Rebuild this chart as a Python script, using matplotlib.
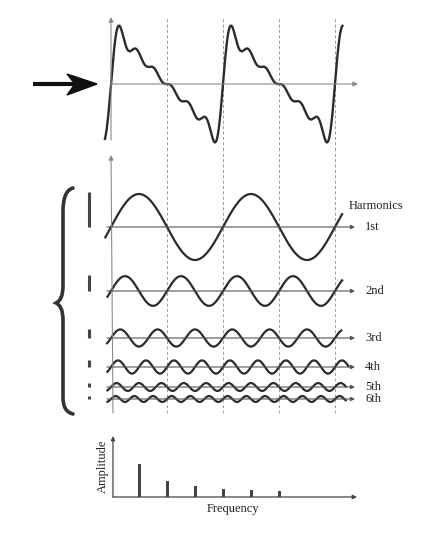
import numpy as np
import matplotlib
matplotlib.use('Agg')
import matplotlib.pyplot as plt
from matplotlib.path import Path
from matplotlib.patches import PathPatch, Polygon

# ---------------- data ----------------
harmonic_labels = ['1st', '2nd', '3rd', '4th', '5th', '6th']
harmonic_numbers = [1, 2, 3, 4, 5, 6]
# amplitudes of the individual harmonics as drawn (relative to the 1st)
harmonic_amplitudes = [1.0, 0.45, 0.26, 0.20, 0.12, 0.09]
# amplitudes used in the composite (top) waveform
composite_amplitudes = [1.0, 0.5, 0.333, 0.25, 0.2, 0.167]
# spectrum bars (bottom panel)
spectrum_amplitudes = [1.0, 0.50, 0.33, 0.25, 0.20, 0.17]

# ---------------- layout ----------------
W, H = 438, 543
plt.rcParams['font.family'] = ['Liberation Serif', 'DejaVu Serif']
fig = plt.figure(figsize=(W / 100, H / 100), dpi=100)

WAVE = '#2b2b2b'
AXC = '#8a8a8a'
DASH = '#9a9a9a'

def add_px_axes(x0, y0, x1, y1):
    ax = fig.add_axes([x0 / W, 1 - y1 / H, (x1 - x0) / W, (y1 - y0) / H])
    ax.axis('off')
    return ax

def arrow(ax, start, end, color=AXC, lw=0.8, ms=7):
    ax.annotate('', xy=end, xytext=start,
                arrowprops=dict(arrowstyle='-|>', lw=lw, color=color,
                                mutation_scale=ms, shrinkA=0, shrinkB=0),
                annotation_clip=False)

X0 = 111.0                    # px of t = 0
K = 112.0 / (2 * np.pi)       # px per radian

# ---------- top panel: composite wave ----------
AT = 36.0
BT = 84.0
axT = add_px_axes(0, 0, 438, 150)
axT.set_xlim((0 - X0) / K, (438 - X0) / K)
axT.set_ylim((BT - 150) / AT, (BT - 0) / AT)

t = np.linspace(-0.34, 4 * np.pi + 0.42, 3000)
comp = np.zeros_like(t)
for n, a in zip(harmonic_numbers, composite_amplitudes):
    comp += a * np.sin(n * t)
arrow(axT, (0, 0), ((358 - X0) / K, 0))
arrow(axT, (0, (BT - 140) / AT), (0, (BT - 17) / AT))
for k in range(1, 5):
    axT.plot([k * np.pi] * 2, [(BT - 150) / AT, (BT - 18) / AT], color=DASH,
             lw=0.7, ls=(0, (3, 2.5)), clip_on=False)
axT.plot(t, comp, color=WAVE, lw=1.7, clip_on=False)

# ---------- middle panel: harmonics ----------
AM = 33.0
B1 = 227.0
axM = add_px_axes(0, 150, 438, 420)
axM.set_xlim((0 - X0) / K, (438 - X0) / K)
axM.set_ylim((B1 - 420) / AM, (B1 - 150) / AM)
baseline_px = [227, 291, 338, 367, 387, 399]
offsets = [(B1 - b) / AM for b in baseline_px]

for k in range(1, 5):
    axM.plot([k * np.pi] * 2, [(B1 - 413) / AM, (B1 - 150) / AM], color=DASH,
             lw=0.7, ls=(0, (3, 2.5)), clip_on=False)
arrow(axM, ((113 - X0) / K, (B1 - 413) / AM), (0, (B1 - 155) / AM))

starts = [-0.32, -0.2, -0.22, -0.2, -0.2, -0.2]
ends = [4 * np.pi + 0.4, 4 * np.pi + 0.4, 4 * np.pi + 0.35,
        4 * np.pi + 0.75, 4 * np.pi + 0.6, 4 * np.pi + 0.6]
for i, (n, a, lab) in enumerate(zip(harmonic_numbers, harmonic_amplitudes, harmonic_labels)):
    off = offsets[i]
    arrow(axM, ((107 - X0) / K, off), ((355 - X0) / K, off), color='#555', lw=0.8, ms=6)
    tt = np.linspace(starts[i], ends[i], 1500)
    axM.plot(tt, off + a * np.sin(n * tt), color=WAVE, lw=1.6, clip_on=False)
    axM.plot([(89 - X0) / K] * 2, [off, off + a * 1.05], color='#444', lw=2.2,
             solid_capstyle='butt', clip_on=False)
    axM.text((365 - X0) / K, off, lab, fontsize=9, ha='left', va='center', color='#222')
axM.text((349 - X0) / K, (B1 - 206) / AM, 'Harmonics', fontsize=9, ha='left',
         va='center', color='#222')

# ---------- bottom panel: spectrum ----------
SB = 28.0
BB = 497.0
AB = 33.0
axB = add_px_axes(60, 425, 380, 530)
axB.set_xlim((60 - 139) / SB + 1, (380 - 139) / SB + 1)
axB.set_ylim((BB - 530) / AB, (BB - 425) / AB)
axB.bar(harmonic_numbers, spectrum_amplitudes, width=3 / SB, color='#444')
arrow(axB, ((113 - 139) / SB + 1, 0), ((357 - 139) / SB + 1, 0), color='#444', lw=0.9, ms=6)
arrow(axB, ((113 - 139) / SB + 1, 0), ((113 - 139) / SB + 1, (BB - 436) / AB), color='#444', lw=0.9, ms=6)
axB.text((233 - 139) / SB + 1, (BB - 509) / AB, 'Frequency', fontsize=9,
         ha='center', va='center', color='#222')
axB.text((103 - 139) / SB + 1, (BB - 466) / AB, 'Amplitude', fontsize=9,
         ha='center', va='center', rotation=90, color='#222')

# ---------- overlay: big arrow and brace ----------
axO = fig.add_axes([0, 0, 1, 1])
axO.set_xlim(0, W)
axO.set_ylim(H, 0)
axO.axis('off')
axO.patch.set_alpha(0)
axO.plot([33, 76], [84, 84], color='#111', lw=3, solid_capstyle='butt')
axO.add_patch(Polygon([(97, 84), (67, 74), (75, 84), (67, 95)], closed=True,
                      color='#111'))
verts = [(73, 188), (66, 190), (63, 198), (63, 212),
         (63, 285),
         (63, 297), (60, 301), (56, 303),
         (60, 305), (63, 309), (63, 321),
         (63, 397),
         (63, 407), (66, 412), (73, 414)]
codes = [Path.MOVETO, Path.CURVE4, Path.CURVE4, Path.CURVE4,
         Path.LINETO,
         Path.CURVE4, Path.CURVE4, Path.CURVE4,
         Path.CURVE4, Path.CURVE4, Path.CURVE4,
         Path.LINETO,
         Path.CURVE4, Path.CURVE4, Path.CURVE4]
axO.add_patch(PathPatch(Path(verts, codes), fill=False, lw=2.6, edgecolor='#333',
                        capstyle='round'))

fig.savefig('out.png', dpi=100)
